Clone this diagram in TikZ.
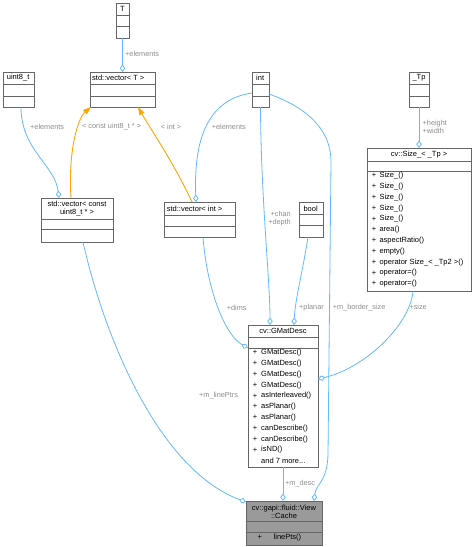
\documentclass[tikz,border=0pt]{standalone}
\usepackage{fontspec}
\setmainfont{Liberation Sans}
\usetikzlibrary{arrows.meta,fit}
\definecolor{edgeblue}{HTML}{63B8FF}
\definecolor{tmplorange}{HTML}{FFA500}
\definecolor{boxgray}{HTML}{666666}
\definecolor{labelgray}{HTML}{8C8C8C}
\definecolor{focusfill}{HTML}{9A9A9A}
\tikzset{
  umlbox/.style={draw=boxgray, line width=0.7pt, inner sep=0pt, outer sep=0pt, rectangle},
  sepline/.style={draw=boxgray, line width=0.7pt},
  assoc/.style={draw=edgeblue, line width=0.8pt, -{Diamond[open, length=7.5pt, width=5.5pt]}},
  tmpl/.style={draw=tmplorange, line width=0.9pt, -{Triangle[length=8pt, width=5.5pt]}},
  elabel/.style={font=\fontsize{7.3}{8}\selectfont, text=labelgray, inner sep=0pt, anchor=west},
  ctext/.style={font=\fontsize{7.5}{8}\selectfont, inner sep=0pt, align=center},
  ltext/.style={font=\fontsize{7.5}{8}\selectfont, inner sep=0pt, anchor=west},
}
\newcommand\classbox[8][]{%
  \coordinate (#2-a) at (#3,#4);
  \coordinate (#2-b) at (#5,#6);
  \node[umlbox,#1,fit=(#2-a)(#2-b)] (#2) {};
  \draw[sepline] (#3,#7) -- (#5,#7) (#3,#8) -- (#5,#8);
}
\begin{document}
\begin{tikzpicture}[x=1pt,y=-1pt]
\useasboundingbox (0,0) rectangle (474,547);
% boxes
\classbox{T}{116}{3}{129}{38}{15}{26}
\classbox{vT}{90}{72}{155}{107}{84}{96}
\classbox{u8}{3}{72}{34}{107}{84}{96}
\classbox{int}{252}{72}{269}{107}{84}{96}
\classbox{Tp}{409}{72}{429}{107}{84}{96}
\classbox{vcu}{41}{198}{113}{242}{219}{229.3}
\classbox{vint}{164}{202}{235}{237}{215}{226}
\classbox{bool}{299}{202}{323}{237}{214.3}{225.7}
\classbox{Size}{367}{148}{471}{291}{161.7}{171.7}
\classbox{GMD}{248}{325}{318}{467}{337.3}{348.3}
\classbox[fill=focusfill]{Cache}{246}{501}{322}{545}{521.7}{532.7}
% titles
\node[ctext] (tT) at (122.5,9) {T};
\node[ltext] (tvT) at (92,78) {std::vector< T >};
\node[ltext] (tu8) at (6.7,78) {uint8\_t};
\node[ltext] (tint) at (256,78) {int};
\node[ltext] (tTp) at (412.3,78) {\_Tp};
\node[ctext] (tvcu) at (77,208.5) {std::vector< const\\uint8\_t * >};
\node[ltext] (tvint) at (166.7,208.5) {std::vector< int >};
\node[ltext] (tbool) at (303.3,208.5) {bool};
\node[ctext] (tSize) at (419,155) {cv::Size\_< \_Tp >};
\node[ctext] (tGMD) at (283,331.2) {cv::GMatDesc};
\node[ctext] (tCache) at (284,511.5) {cv::gapi::fluid::View\\::Cache};
% methods
\foreach \m [count=\i from 0] in {Size\_(),Size\_(),Size\_(),Size\_(),Size\_(),area(),aspectRatio(),empty(),operator Size\_< \_Tp2 >(),operator=(),operator=()}{
  \node[ltext] (szp\i) at (371.7,175.7+10.8*\i) {+};
  \node[ltext] (szm\i) at (379.3,175.7+10.8*\i) {\m};
}
\foreach \m [count=\i from 0] in {GMatDesc(),GMatDesc(),GMatDesc(),GMatDesc(),asInterleaved(),asPlanar(),asPlanar(),canDescribe(),canDescribe(),isND()}{
  \node[ltext] (gmp\i) at (252.7,352.7+10.8*\i) {+};
  \node[ltext] (gmm\i) at (261,352.7+10.8*\i) {\m};
}
\node[ltext] (gmmore) at (261,460.7) {and 7 more...};
\node[ltext] (cap) at (257.5,537.5) {+};
\node[ltext] (cam) at (273.5,537.5) {linePts()};
% connectors
\draw[assoc] (T.south) -- (vT.north);
\draw[assoc] ([xshift=18pt]u8.south west) .. controls (21,150) and (55,165) .. ([xshift=18pt]vcu.north west);
\draw[tmpl] ([xshift=30pt]vcu.north west) .. controls (68,150) and (78,118) .. ([xshift=1pt]vT.south west);
\draw[tmpl] ([xshift=28pt]vint.north west) .. controls (175,165) and (150,128) .. ([xshift=48pt]vT.south west);
\draw[assoc] ([yshift=-21pt]int.north west) .. controls (202,100) and (194,150) .. ([xshift=32pt]vint.north west);
\draw[assoc] (int.south) .. controls (261,200) and (270,280) .. ([xshift=22pt]GMD.north west);
\draw[assoc] ([xshift=9pt]bool.south west) .. controls (303,270) and (295,300) .. ([xshift=46pt]GMD.north west);
\draw[assoc] ([xshift=39pt]vint.south west) .. controls (207,290) and (225,335) .. ([yshift=-23pt]GMD.north west);
\draw[assoc] ([yshift=-22pt]int.north east) .. controls (300,105) and (331,125) .. (331,162) -- (328,455) .. controls (327,482) and (316,484) .. ([xshift=-8pt]Cache.north east);
\draw[assoc] ([xshift=46pt]Size.south west) .. controls (410,325) and (365,368) .. ([yshift=-54pt]GMD.north east);
\draw[assoc] ([xshift=42pt]vcu.south west) .. controls (105,340) and (160,470) .. ([yshift=-1pt]Cache.north west);
\draw[assoc] (GMD.south) -- (GMD.south |- Cache.north);
\draw[assoc] (Tp.south) -- (Size.north);
% labels
\node[elabel] (l1) at (125,54) {+elements};
\node[elabel] (l2) at (30,127) {+elements};
\node[elabel] (l3) at (82,127) {< const uint8\_t * >};
\node[elabel] (l4) at (160.7,127) {< int >};
\node[elabel] (l5) at (211.7,127) {+elements};
\node[elabel, anchor=east, align=right] (l6) at (291,219) {+chan\\+depth};
\node[elabel] (l7) at (299,307.3) {+planar};
\node[elabel] (l8) at (332.7,307.3) {+m\_border\_size};
\node[elabel] (l9) at (409.3,307.3) {+size};
\node[elabel] (l10) at (226.7,307.5) {+dims};
\node[elabel] (l11) at (199,395.7) {+m\_linePtrs};
\node[elabel] (l12) at (285,483.3) {+m\_desc};
\node[elabel, align=left] (l13) at (422.5,126.7) {+height\\+width};
\end{tikzpicture}
\end{document}
